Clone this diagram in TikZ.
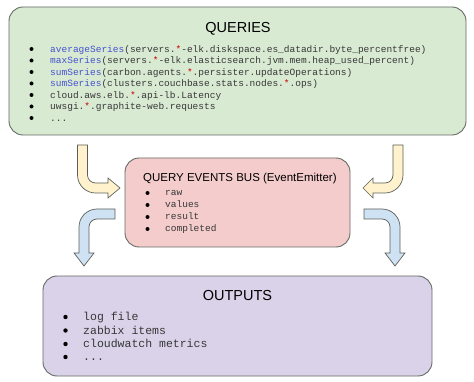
\documentclass[tikz,border=0pt]{standalone}
\usepackage{fontspec}
\setmainfont{Liberation Sans}
\setmonofont{Liberation Mono}
\usepackage{tikz}
\usetikzlibrary{positioning,calc}
\definecolor{queryfill}{RGB}{217,234,211}
\definecolor{busfill}{RGB}{244,204,204}
\definecolor{outfill}{RGB}{217,210,233}
\definecolor{inarrow}{RGB}{255,242,204}
\definecolor{outarrow}{RGB}{207,226,243}
\definecolor{boxline}{RGB}{100,106,100}
\definecolor{fnblue}{RGB}{70,82,205}
\definecolor{starred}{RGB}{204,0,0}
\definecolor{codegray}{RGB}{55,55,55}
\newcommand{\fn}[1]{\textcolor{fnblue}{#1}}
\newcommand{\st}{\textcolor{starred}{*}}

\begin{document}
\begin{tikzpicture}[x=1pt,y=-1pt,
    panel/.style={draw=boxline,line width=0.9pt,rounded corners=14pt,inner sep=0pt,outer sep=0pt},
    title/.style={anchor=base,inner sep=0pt,font=\fontsize{14.5}{16}\selectfont},
    qitem/.style={anchor=base west,inner sep=0pt,text=codegray,font=\ttfamily\fontsize{9.5}{11}\selectfont},
    oitem/.style={anchor=base west,inner sep=0pt,text=codegray,font=\ttfamily\fontsize{11.5}{13}\selectfont},
    blockarrow/.style={draw=boxline!90!black,line width=0.7pt,line join=miter}]
  \useasboundingbox (0,0) rectangle (474,382);

  % Queries
  \node[panel,fill=queryfill,minimum width=457pt,minimum height=128pt] (queries) at (237.5,71) {};
  \node[title] (qtitle) at (238,33) {QUERIES};
  \foreach \y in {49,60.5,72,83.5,95,106.5,118}
    \fill (31.5,\y) circle (2);
  \node[qitem] (q1) at (50,52.5) {\fn{averageSeries}(servers.\st-elk.diskspace.es\_datadir.byte\_percentfree)};
  \node[qitem] (q2) at (50,64) {\fn{maxSeries}(servers.\st-elk.elasticsearch.jvm.mem.heap\_used\_percent)};
  \node[qitem] (q3) at (50,75.5) {\fn{sumSeries}(carbon.agents.\st.persister.updateOperations)};
  \node[qitem] (q4) at (50,87) {\fn{sumSeries}(clusters.couchbase.stats.nodes.\st.ops)};
  \node[qitem] (q5) at (50,98.5) {cloud.aws.elb.\st.api-lb.Latency};
  \node[qitem] (q6) at (50,110) {uwsgi.\st.graphite-web.requests};
  \node[qitem] (q7) at (50,121.5) {...};

  % Query events bus
  \node[panel,fill=busfill,minimum width=225pt,minimum height=89pt] (bus) at (237.5,202.5) {};
  \node[anchor=base west,inner sep=0pt,font=\fontsize{11.5}{13}\selectfont] (btitle) at (143,182) {QUERY EVENTS BUS (EventEmitter)};
  \foreach \y in {193,205,217,229}
    \fill (147.5,\y) circle (2);
  \node[qitem] (b1) at (165,195.5) {raw};
  \node[qitem] (b2) at (165,207.5) {values};
  \node[qitem] (b3) at (165,219.5) {result};
  \node[qitem] (b4) at (165,231.5) {completed};

  % Outputs
  \node[panel,fill=outfill,minimum width=389pt,minimum height=100pt] (outputs) at (237.5,326) {};
  \node[title] (otitle) at (237.5,301) {OUTPUTS};
  \foreach \y in {317,330.5,344,357}
    \fill (65.5,\y) circle (2.2);
  \node[oitem] (o1) at (83,320.5) {log file};
  \node[oitem] (o2) at (83,334) {zabbix items};
  \node[oitem] (o3) at (83,347.5) {cloudwatch metrics};
  \node[oitem] (o4) at (83,360.5) {...};

  % Queries into bus
  \draw[blockarrow,fill=inarrow] (77.5,145) -- (77.5,175) .. controls (77.5,184.9) and (85.6,193) .. (95.5,193)
    -- (108,193) -- (108,198) -- (120,188) -- (108,178) -- (108,183) -- (95.5,183)
    .. controls (91.1,183) and (87.5,179.4) .. (87.5,175) -- (87.5,145) -- cycle;
  \draw[blockarrow,fill=inarrow] (393,145) -- (393,175) .. controls (393,179.4) and (389.4,183) .. (385,183)
    -- (373,183) -- (373,178) -- (363,188) -- (373,198) -- (373,193) -- (385,193)
    .. controls (394.9,193) and (403,184.9) .. (403,175) -- (403,145) -- cycle;

  % Bus into outputs
  \draw[blockarrow,fill=outarrow] (115,209) -- (97,209) .. controls (87.1,209) and (79,217.1) .. (79,227)
    -- (79,253) -- (74,253) -- (84,266) -- (94,253) -- (89,253) -- (89,227)
    .. controls (89,222.6) and (92.6,219) .. (97,219) -- (115,219) -- cycle;
  \draw[blockarrow,fill=outarrow] (364,209) -- (382,209) .. controls (391.9,209) and (400,217.1) .. (400,227)
    -- (400,253) -- (405,253) -- (395,266) -- (385,253) -- (390,253) -- (390,227)
    .. controls (390,222.6) and (386.4,219) .. (382,219) -- (364,219) -- cycle;
\end{tikzpicture}
\end{document}
